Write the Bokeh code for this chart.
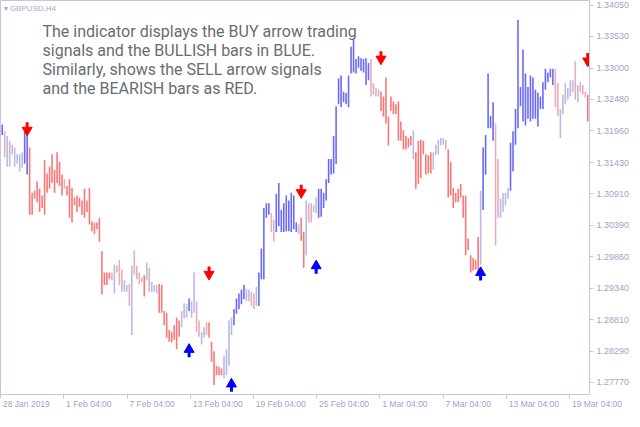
from bokeh.plotting import figure
from bokeh.models import (ColumnDataSource, FixedTicker, PrintfTickFormatter, Label,
                          LinearAxis, Range1d)
from bokeh.embed import file_html
from bokeh.resources import INLINE

# ---- data (GBPUSD, H4) ----
high = [
    1.32064, 1.31952, 1.31872, 1.31792, 1.31728, 1.31680, 1.31568, 1.31568, 1.31600, 1.31952, 1.31952,
    1.31680, 1.30928, 1.30960, 1.31120, 1.30992, 1.30880, 1.31472, 1.31248, 1.31360, 1.31568,
    1.31312, 1.31600, 1.31440, 1.31232, 1.31152, 1.31040, 1.31152, 1.31008, 1.30848, 1.30880, 1.30848,
    1.30800, 1.30992, 1.30800, 1.31008, 1.30448, 1.30432, 1.30432, 1.30512, 1.29952, 1.29600,
    1.29600, 1.29600, 1.29600, 1.29728, 1.29712, 1.29808, 1.29648, 1.29472, 1.29392, 1.29408,
    1.29712, 1.29968, 1.29712, 1.29600, 1.29520, 1.29552, 1.29760, 1.29680, 1.29440, 1.29392,
    1.29392, 1.29408, 1.29392, 1.28960, 1.28928, 1.28640, 1.28608, 1.28720, 1.28848, 1.28800,
    1.28960, 1.29088, 1.29072, 1.29168, 1.29120, 1.29600, 1.29120, 1.28800, 1.28608, 1.28688,
    1.28768, 1.28768, 1.28448, 1.28288, 1.28048, 1.28032, 1.28000, 1.28208, 1.28320, 1.28800,
    1.28848, 1.28992, 1.29168, 1.29248, 1.29312, 1.29392, 1.29328, 1.29312, 1.29280, 1.29248,
    1.29360, 1.29600, 1.30000, 1.30672, 1.30752, 1.30752, 1.30592, 1.30480, 1.30912,
    1.31088, 1.30640, 1.30752, 1.30880, 1.30800, 1.30928, 1.30880, 1.30432, 1.30400,
    1.30512, 1.30272, 1.30800, 1.30752, 1.30752, 1.30720, 1.30848, 1.30992, 1.30992, 1.30928,
    1.31152, 1.31488, 1.31488, 1.31872, 1.32368, 1.32832, 1.32880, 1.32608, 1.32592, 1.32880,
    1.33360, 1.33488, 1.33152, 1.33200, 1.33168, 1.33152, 1.33168, 1.33088, 1.33152, 1.32752,
    1.32672, 1.32640, 1.32608, 1.32528, 1.32848, 1.32192, 1.32528, 1.32448, 1.32400, 1.32448,
    1.32112, 1.31968, 1.31872, 1.31840, 1.31872, 1.31968, 1.31600, 1.31792, 1.31808, 1.31792,
    1.31568, 1.31552, 1.31600, 1.31600, 1.31728, 1.31808, 1.31840, 1.31840, 1.31808, 1.31648,
    1.31440, 1.31008, 1.30928, 1.30992, 1.31072, 1.30880, 1.30880, 1.30160, 1.29888, 1.29840,
    1.29808, 1.30192, 1.30960, 1.31680, 1.31888, 1.32912, 1.32208, 1.32432, 1.32080, 1.31488,
    1.30832, 1.30928, 1.30928, 1.31008, 1.31760, 1.31952, 1.32320, 1.33808, 1.32688, 1.33312,
    1.32912, 1.32688, 1.32880, 1.32848, 1.32640, 1.32592, 1.32528, 1.32768, 1.32992, 1.32928,
    1.32992, 1.32992, 1.32992, 1.32752, 1.32320, 1.32560, 1.32752, 1.32672, 1.32800, 1.32800,
    1.33120, 1.32720, 1.32768, 1.32720, 1.32608, 1.32560,
]
low = [
    1.31888, 1.31520, 1.31360, 1.31360, 1.31568, 1.31360, 1.31408, 1.31280, 1.31344, 1.31408, 1.31232,
    1.30560, 1.30560, 1.30832, 1.30768, 1.30608, 1.30672, 1.30560, 1.30928, 1.30992, 1.31088,
    1.30928, 1.31088, 1.31040, 1.30880, 1.30992, 1.30880, 1.30512, 1.30432, 1.30720, 1.30608, 1.30688,
    1.30560, 1.30512, 1.30608, 1.30400, 1.30288, 1.30240, 1.30320, 1.30112, 1.29232, 1.29392,
    1.29392, 1.29488, 1.29472, 1.29248, 1.29600, 1.29392, 1.29280, 1.29280, 1.29280, 1.29040,
    1.28560, 1.29568, 1.29488, 1.29408, 1.29440, 1.29200, 1.29472, 1.29280, 1.29280, 1.29280,
    1.29248, 1.28928, 1.28928, 1.28720, 1.28512, 1.28448, 1.28432, 1.28480, 1.28320, 1.28528,
    1.28688, 1.28832, 1.28848, 1.28960, 1.28848, 1.28928, 1.28608, 1.28528, 1.28400, 1.28512,
    1.28560, 1.28512, 1.28112, 1.27728, 1.27888, 1.27888, 1.27888, 1.27840, 1.27888, 1.28048,
    1.28560, 1.28720, 1.28912, 1.28992, 1.29072, 1.29152, 1.29120, 1.29120, 1.29040, 1.28992,
    1.29040, 1.29040, 1.29488, 1.29488, 1.30512, 1.30560, 1.30272, 1.30112, 1.30272,
    1.30368, 1.30272, 1.30272, 1.30288, 1.30288, 1.30272, 1.30320, 1.30272, 1.30240,
    1.30128, 1.29680, 1.29888, 1.30432, 1.30432, 1.30608, 1.30592, 1.30512, 1.30528, 1.30672,
    1.30800, 1.31088, 1.31232, 1.31248, 1.31408, 1.32400, 1.32352, 1.32432, 1.32400, 1.32352,
    1.32912, 1.32928, 1.32912, 1.33008, 1.32960, 1.32928, 1.32720, 1.32800, 1.32528, 1.32560,
    1.32528, 1.32528, 1.32288, 1.32192, 1.32080, 1.31712, 1.32288, 1.32240, 1.32240, 1.31792,
    1.31792, 1.31648, 1.31648, 1.31680, 1.31712, 1.31488, 1.30992, 1.31072, 1.31168, 1.31568,
    1.31232, 1.31248, 1.31248, 1.31312, 1.31552, 1.31568, 1.31712, 1.31728, 1.31648, 1.30848,
    1.30880, 1.30672, 1.30768, 1.30768, 1.30848, 1.30512, 1.29888, 1.29968, 1.29600, 1.29632,
    1.29648, 1.29600, 1.29728, 1.30640, 1.31232, 1.32000, 1.32000, 1.31792, 1.30048, 1.30512,
    1.30512, 1.30608, 1.30720, 1.30832, 1.30960, 1.31280, 1.31728, 1.32000, 1.32368, 1.32112,
    1.32048, 1.32160, 1.32112, 1.32160, 1.32160, 1.32032, 1.32320, 1.32320, 1.32640, 1.32768,
    1.32848, 1.32720, 1.32352, 1.32208, 1.31840, 1.32240, 1.32400, 1.32480, 1.32528, 1.32608,
    1.32480, 1.32432, 1.32608, 1.32560, 1.32512, 1.32112,
]
# bar class: B = bullish, b = weak bullish, R = bearish, r = weak bearish
bar_kind = list(
    "BrbbrbbbbBB" "RRRRRRRRRR" "RRRRrRRRRRR" "RRRRRRRRRR" "RRrbrrrbbr"
    "brrrrRbrbb" "bRRRRRRRRR" "bbbBbbrrbb" "rRRRRRRbbb" "bBBBBBbbrr"
    "bBBBBBrrB" "BBBBBBBBb" "RRbrrbbBBB" "BBBBBBBBBB" "BBBBBBBBrr"
    "brRRRRRRRR" "RRRRRbRRRR" "RRRbbbbbrR" "RRRRRRRRRR" "RRbBBBBBrr"
    "bbbbBBBBBB" "BBBBBBBBBB" "BBrrbbbbbb" "rbrrrR"
)
sell_bar = [10, 83, 120, 152, 235]
sell_price = [1.32000, 1.29600, 1.30960, 1.33184, 1.33152]
buy_bar = [75, 92, 126, 192]
buy_price = [1.28288, 1.27712, 1.29680, 1.29568]

price_ticks = [1.27770, 1.28290, 1.28810, 1.29340, 1.29860, 1.30390, 1.30910,
               1.31430, 1.31960, 1.32480, 1.33000, 1.33530, 1.34050]
date_tick_bar = [-0.6, 24.7, 50.1, 75.5, 100.8, 126.2, 151.6, 177.0, 202.4, 227.8]
date_labels = ["28 Jan 2019", "1 Feb 04:00", "7 Feb 04:00", "13 Feb 04:00", "19 Feb 04:00",
               "25 Feb 04:00", "1 Mar 04:00", "7 Mar 04:00", "13 Mar 04:00", "19 Mar 04:00"]

assert len(high) == len(low) == len(bar_kind)
N = len(high)

palette = {"B": "#6a6af8", "b": "#b6bbe8", "R": "#fa7777", "r": "#eaabba"}
AX = "#c3c7e3"
LBL = "#9ea4c6"
LFONT = "Liberation Sans"
LSIZE = 8.5
X0, X1 = -0.7, N - 0.3

src = ColumnDataSource(dict(x=list(range(N)), high=high, low=low,
                            color=[palette[k] for k in bar_kind]))

p = figure(width=632, height=411, output_backend="svg", toolbar_location=None,
           x_range=Range1d(X0, X1), y_range=Range1d(1.27568, 1.34128),
           y_axis_location="right", min_border=0, min_border_left=0, min_border_top=0,
           min_border_right=0, min_border_bottom=0)
p.background_fill_color = "white"
p.border_fill_color = "white"
p.outline_line_color = AX
p.grid.visible = False

p.segment(x0="x", y0="low", x1="x", y1="high", line_color="color", line_width=1.6, source=src)

# signal arrows
sell_src = ColumnDataSource(dict(x=sell_bar, stem=[v + 0.0005 for v in sell_price],
                                 head=[v - 0.0003 for v in sell_price]))
buy_src = ColumnDataSource(dict(x=buy_bar, stem=[v - 0.0005 for v in buy_price],
                                head=[v + 0.0003 for v in buy_price]))
p.rect(x="x", y="stem", width=3, height=6, width_units="screen", height_units="screen",
       fill_color="#ff0000", line_color=None, source=sell_src)
p.scatter(x="x", y="head", marker="inverted_triangle", size=10, fill_color="#ff0000",
          line_color="#ff0000", source=sell_src)
p.rect(x="x", y="stem", width=3, height=6, width_units="screen", height_units="screen",
       fill_color="#0000ff", line_color=None, source=buy_src)
p.scatter(x="x", y="head", marker="triangle", size=10, fill_color="#0000ff",
          line_color="#0000ff", source=buy_src)

# price axis (right)
ya = p.yaxis[0]
ya.ticker = FixedTicker(ticks=price_ticks)
ya.formatter = PrintfTickFormatter(format="%.5f")
ya.axis_line_color = AX
ya.major_tick_line_color = AX
ya.major_tick_out = 4
ya.major_tick_in = 0
ya.minor_tick_line_color = None
ya.major_label_standoff = 3
ya.axis_label_standoff = 0
ya.major_label_text_color = LBL
ya.major_label_text_font = LFONT
ya.major_label_text_font_size = "9px"

# time axis (bottom): tick marks only
xa = p.xaxis[0]
xa.ticker = FixedTicker(ticks=date_tick_bar)
xa.major_label_overrides = {t: "" for t in date_tick_bar}
xa.major_label_text_font_size = "0px"
xa.axis_line_color = AX
xa.major_tick_line_color = AX
xa.major_tick_out = 4
xa.major_tick_in = 0
xa.minor_tick_line_color = None
xa.major_label_standoff = 0
xa.axis_label_standoff = 0

# date labels: left-aligned just right of each tick (second axis row, centres shifted)
em = {"0": .556, "1": .556, "2": .556, "3": .556, "4": .556, "5": .556, "6": .556,
      "7": .556, "8": .556, "9": .556, " ": .278, ":": .278, "J": .5, "a": .556, "n": .556,
      "F": .611, "e": .556, "b": .556, "M": .833, "r": .333}
nbsp_w = .278 * LSIZE
frame_px = 582.0
bar_px = frame_px / (X1 - X0)
label_pos, label_txt = [], []
for t, s in zip(date_tick_bar, date_labels):
    w = sum(em.get(c, .556) for c in s) * LSIZE
    c = t + (2 + w / 2) / bar_px
    if c < X1 - 0.5:
        label_pos.append(round(c, 2))
        label_txt.append(s)
    else:  # keep the centre inside the range: pad on the left instead
        label_pos.append(t)
        label_txt.append("\u00a0" * int(round((w + 4) / nbsp_w)) + s)
xl = LinearAxis(ticker=FixedTicker(ticks=label_pos),
                major_label_overrides=dict(zip(label_pos, label_txt)))
xl.axis_line_color = None
xl.major_tick_line_color = None
xl.minor_tick_line_color = None
xl.major_tick_out = 0
xl.major_tick_in = 0
xl.major_label_standoff = 0
xl.axis_label_standoff = 0
xl.major_label_text_color = LBL
xl.major_label_text_font = LFONT
xl.major_label_text_font_size = f"{LSIZE}px"
p.add_layout(xl, "below")

# chart title and note
p.add_layout(Label(x=3, x_units="screen", y=1.34128, y_offset=-3, text="\u25be GBPUSD,H4",
                   text_baseline="top", text_color="#a4a9c8", text_font=LFONT,
                   text_font_size="8px"))
note = ["The indicator displays the BUY arrow trading",
        "signals and the BULLISH bars in BLUE.",
        "Similarly, shows the SELL arrow signals",
        "and the BEARISH bars as RED."]
note_y = [1.33620, 1.33300, 1.32980, 1.32660]
for t, yy in zip(note, note_y):
    p.add_layout(Label(x=42, x_units="screen", y=yy, text=t, text_baseline="middle",
                       text_color="#686c74", text_font="Roboto", text_font_size="16px"))

open("out.html", "w").write(file_html(p, INLINE))
